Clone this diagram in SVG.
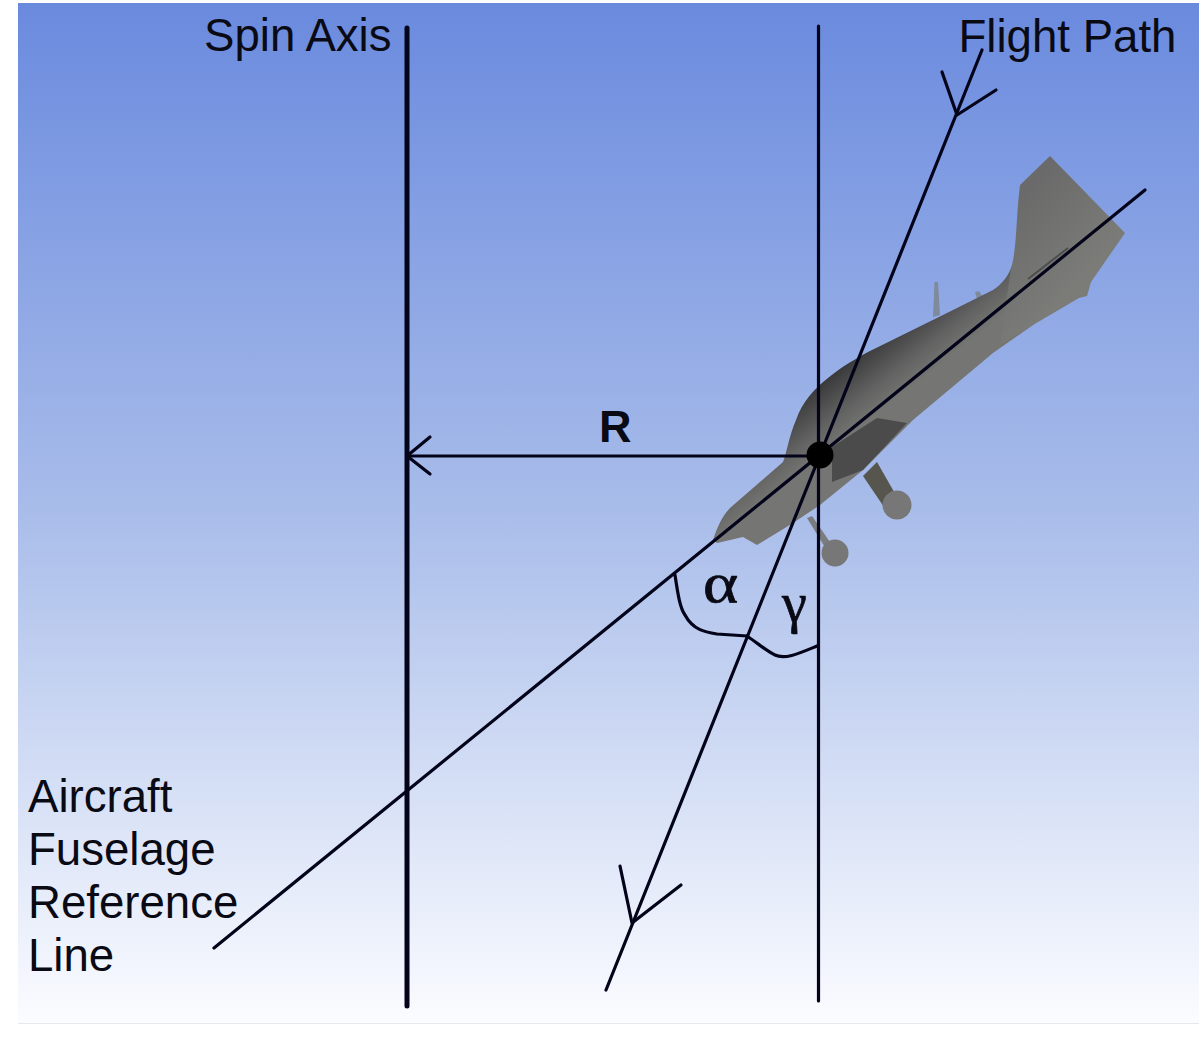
<svg xmlns="http://www.w3.org/2000/svg" width="1199" height="1041" viewBox="0 0 1199 1041">
<style>
.t{font-family:"Liberation Sans",Arial,sans-serif;font-size:45.6px;fill:#0a0a14}
.g{font-family:"Liberation Serif","Times New Roman",serif;font-size:56px;fill:#0a0a14;stroke:#0a0a14;stroke-width:.7}
.l{fill:none;stroke:#03031a;stroke-width:3.2;stroke-linecap:round;stroke-linejoin:round}
</style>
<defs>
<linearGradient id="bg" x1="0" y1="0" x2="0" y2="1"><stop offset="0" stop-color="#6a8ade"/><stop offset="0.5" stop-color="#a9bdea"/><stop offset="1" stop-color="#fbfcff"/></linearGradient>
<linearGradient id="body" gradientUnits="userSpaceOnUse" x1="862" y1="352" x2="898" y2="398"><stop offset="0" stop-color="#3a3a3c"/><stop offset="0.6" stop-color="#626262"/><stop offset="1" stop-color="#757573"/></linearGradient>
<linearGradient id="tail" gradientUnits="userSpaceOnUse" x1="1015" y1="200" x2="1090" y2="270"><stop offset="0" stop-color="#6a6a6a"/><stop offset="1" stop-color="#7b7b78"/></linearGradient>
</defs>
<rect width="1199" height="1041" fill="#fff"/>
<rect x="18" y="3" width="1181" height="1020" fill="url(#bg)"/>
<path d="M18 1023.500H1199" stroke="#e8e8ea" stroke-width="1"/>
<g id="aircraft">
<path d="M877 462L897 497L884 507L863 476Z" fill="#56564f"/>
<circle cx="897" cy="505" r="14.500" fill="#777"/>
<path d="M807 518L812 516L832 545L826 549Z" fill="#7a7c80"/>
<circle cx="835" cy="553" r="13.500" fill="#777"/>
<path d="M933 317L934.500 282L938 282L940 315Z" fill="#7f8a9c"/>
<path d="M975 292L979 291L983 297L977 299Z" fill="#7f8a9c"/>
<path d="M713 540C717 528 722 516 730 508L783 462C787 452 789 436 796 420C802 402 815 388 828 378C840 368 850 362 868 352L947 313L993 290C1002 284 1008 276 1011 268L1050 290L1033 325L993 353L913 420L863 470L820 505L793 523L757 545L743 537L717 543Z" fill="url(#body)"/>
<path d="M1011 268C1017 250 1016 215 1020 185L1050 156L1125 233L1091 282L1087 296L1079 298L1033 325L1000 345Z" fill="url(#tail)"/>
<path d="M1028 279L1068 248" stroke="#4d4d4d" stroke-width="2" fill="none"/>
<path d="M832 447L877 418L907 423L863 470L832 482Z" fill="#4b4b4b"/>
</g>
<g id="connectors">
<path class="l" d="M407 28V1006" style="stroke-width:5"/>
<path class="l" d="M818.500 26V1001"/>
<path class="l" d="M214 948L1145 190"/>
<path class="l" d="M982 50L606 990"/>
<path class="l" d="M942 72L957 115L996 90"/>
<path class="l" d="M620 866L632 923L681 885"/>
<path class="l" d="M407 456H820"/>
<path class="l" d="M430 437L407 456L430 474"/>
<path class="l" d="M675 575C678 595 680 608 685 615C693 630 705 632 717 634L747 636"/>
<path class="l" d="M747 636C760 645 768 652 775 655C785 660 800 653 817 646"/>
</g>
<g id="centre"><circle cx="820" cy="455" r="13.500" fill="#000"/></g>
<g id="labels">
<text class="t" x="204" y="50.500">Spin Axis</text>
<text class="t" x="958.500" y="52">Flight Path</text>
<text class="t" x="28" y="812">Aircraft</text>
<text class="t" x="28" y="865">Fuselage</text>
<text class="t" x="28" y="918">Reference</text>
<text class="t" x="28" y="971">Line</text>
<text x="599" y="442" style="font-family:'Liberation Sans',Arial,sans-serif;font-size:45px;font-weight:bold;fill:#0a0a14">R</text>
<text class="g" transform="translate(703,602) scale(1.2,1)">α</text>
<text class="g" x="782" y="622">γ</text>
</g>
</svg>
